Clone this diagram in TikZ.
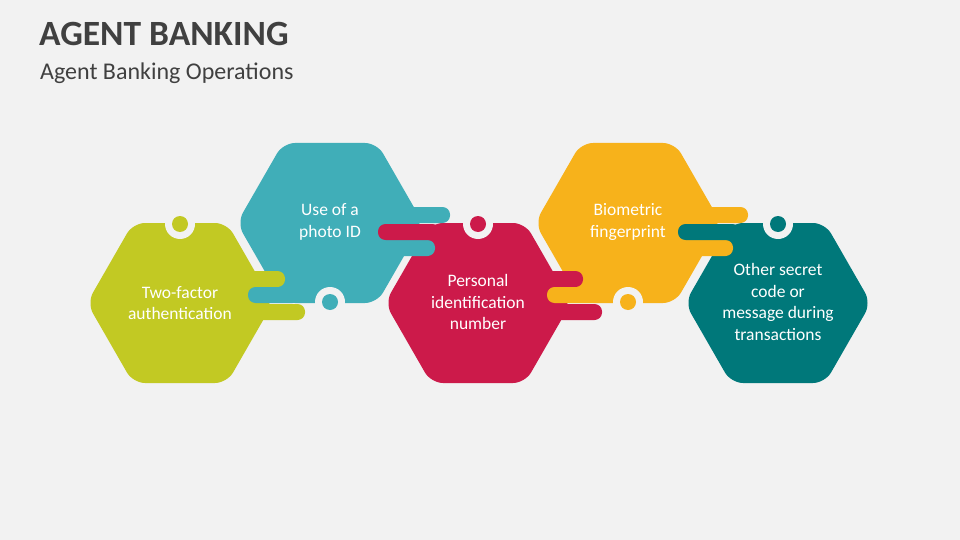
\documentclass[tikz,border=0pt]{standalone}
\usepackage{fontspec}
\setmainfont{Carlito}
\definecolor{bg}{HTML}{F2F2F2}
\definecolor{cA}{HTML}{C2C923}
\definecolor{cB}{HTML}{40AEB8}
\definecolor{cC}{HTML}{CC1A4A}
\definecolor{cD}{HTML}{F7B21B}
\definecolor{cE}{HTML}{00787A}
\definecolor{tit}{HTML}{404040}
\newcommand{\hexa}[3]{\fill[#3,rounded corners=12pt] (#1-93,#2) -- (#1-47,#2-80) -- (#1+47,#2-80) -- (#1+93,#2) -- (#1+47,#2+80) -- (#1-47,#2+80) -- cycle;}
\newcommand{\notchdot}[3]{\fill[bg] (#1,#2) circle (15); \fill[#3] (#1,#2) circle (8);}
\newcommand{\barr}[4]{\fill[#4,rounded corners=7.5pt] (#1,#3-8) rectangle (#2,#3+8);}
\tikzset{lbl/.style={text=white,font=\fontsize{17.5}{21.5}\selectfont,align=center}}
\begin{document}
\begin{tikzpicture}[x=1pt,y=-1pt]
\fill[bg] (0,0) rectangle (960,540);
\useasboundingbox (0,0) rectangle (960,540);
\node[anchor=base west,text=tit,font=\fontsize{35.5}{35.5}\selectfont\bfseries,inner sep=0] (t) at (39,46) {AGENT BANKING};
\node[anchor=base west,text=tit,font=\fontsize{24}{24}\selectfont,inner sep=0] (s) at (40,80) {Agent Banking Operations};
\hexa{180}{303}{cA}
\hexa{330}{223}{cB}
\hexa{478}{303}{cC}
\hexa{628}{223}{cD}
\hexa{778}{303}{cE}
\notchdot{180}{224}{cA}
\notchdot{330}{302}{cB}
\notchdot{478}{224}{cC}
\notchdot{628}{302}{cD}
\notchdot{778}{224}{cE}
% bars
\barr{230}{285}{279}{cA}
\barr{230}{305}{312}{cA}
\barr{248}{300}{295}{cB}
\barr{380}{450}{215}{cB}
\barr{380}{435}{248}{cB}
\barr{378}{440}{232}{cC}
\barr{528}{583}{279}{cC}
\barr{528}{602}{312}{cC}
\barr{547}{600}{295}{cD}
\barr{678}{748}{215}{cD}
\barr{678}{733}{248}{cD}
\barr{678}{740}{232}{cE}
\node[lbl] (a) at (180,303) {Two-factor\\authentication};
\node[lbl] (b) at (330,222) {Use of a\\photo ID};
\node[lbl] (c) at (478,302) {Personal\\identification\\number};
\node[lbl] (d) at (628,222) {Biometric\\fingerprint};
\node[lbl] (e) at (778,302) {Other secret\\code or\\message during\\transactions};
\end{tikzpicture}
\end{document}
